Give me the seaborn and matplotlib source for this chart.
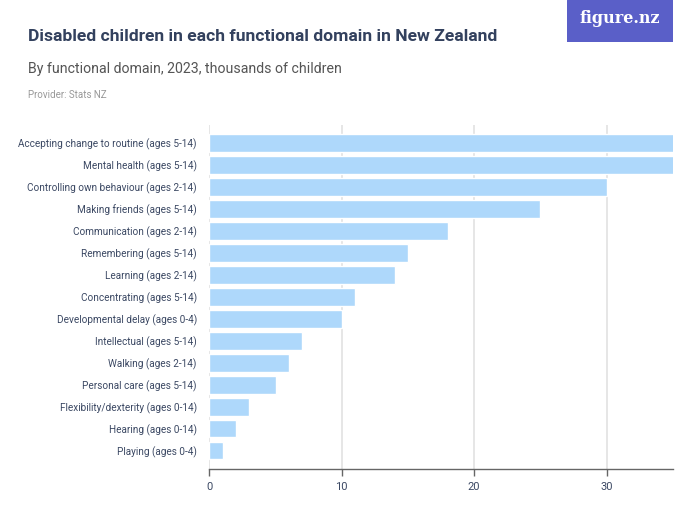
import numpy as np
import pandas as pd
import matplotlib
matplotlib.use('Agg')
import matplotlib.pyplot as plt
import seaborn as sns

# data, thousands of children (first two bars run past the axis max)
domains = [
    'Accepting change to routine (ages 5-14)',
    'Mental health (ages 5-14)',
    'Controlling own behaviour (ages 2-14)',
    'Making friends (ages 5-14)',
    'Communication (ages 2-14)',
    'Remembering (ages 5-14)',
    'Learning (ages 2-14)',
    'Concentrating (ages 5-14)',
    'Developmental delay (ages 0-4)',
    'Intellectual (ages 5-14)',
    'Walking (ages 2-14)',
    'Personal care (ages 5-14)',
    'Flexibility/dexterity (ages 0-14)',
    'Hearing (ages 0-14)',
    'Playing (ages 0-4)',
]
children = [36, 36, 30, 25, 18, 15, 14, 11, 10, 7, 6, 5, 3, 2, 1]
x_ticks = [0, 10, 20, 30]

df = pd.DataFrame({'domain': domains, 'children': children})

sns.set_theme(style='white')
plt.rcParams['font.family'] = ['Roboto', 'DejaVu Sans']

TEXT = '#3b4863'
fig = plt.figure(figsize=(7, 5.25), dpi=100)
ax = fig.add_axes([0.299, 0.106, 0.662, 0.656])

sns.barplot(data=df, x='children', y='domain', color='#aed8fb', saturation=1,
            width=0.8, ax=ax, zorder=3)

ax.set_xlim(0, 35)
ax.set_ylim(14.85, -0.82)
ax.set_xticks(x_ticks)
ax.set_xlabel('')
ax.set_ylabel('')
ax.xaxis.grid(True, color='#e2e2e2', linewidth=1.2, zorder=0)
ax.yaxis.grid(False)
for s in ['top', 'right', 'left']:
    ax.spines[s].set_visible(False)
ax.spines['bottom'].set_color('#666666')
ax.spines['bottom'].set_linewidth(1)
ax.tick_params(axis='y', length=0, pad=9, labelsize=7.2, labelcolor=TEXT)
ax.tick_params(axis='x', length=5, width=1, color='#666666', pad=4,
               labelsize=8, labelcolor=TEXT, bottom=True)

fig.text(0.04, 0.93, 'Disabled children in each functional domain in New Zealand',
         fontsize=12.6, color='#33415e', fontweight='semibold', va='center')
fig.text(0.04, 0.868, 'By functional domain, 2023, thousands of children',
         fontsize=10.2, color='#555555', va='center')
fig.text(0.04, 0.82, 'Provider: Stats NZ', fontsize=7, color='#999999', va='center')

# logo box
logo = fig.add_axes([0.81, 0.92, 0.151, 0.08])
logo.set_axis_off()
logo.add_patch(plt.Rectangle((0, 0), 1, 1, color='#5a5fc8', transform=logo.transAxes))
logo.text(0.5, 0.55, 'figure.nz', color='white', fontsize=11.5, ha='center', va='center',
          family=['DejaVu Serif'], fontweight='bold', transform=logo.transAxes)

fig.savefig('out.png', dpi=100)
